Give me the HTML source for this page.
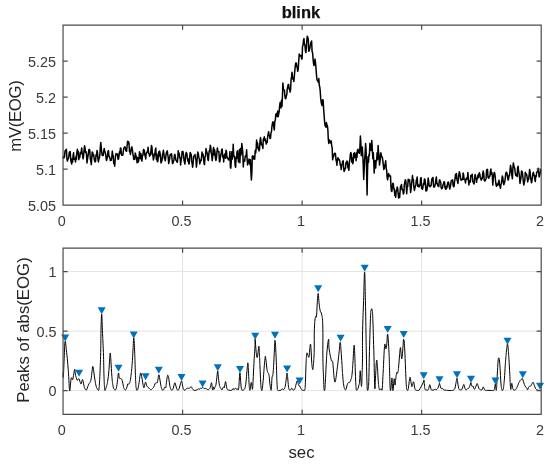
<!DOCTYPE html>
<html><head><meta charset="utf-8"><title>blink</title>
<style>html,body{margin:0;padding:0;background:#fff}svg{display:block}</style></head>
<body>
<svg width="550" height="464" viewBox="0 0 550 464">
<rect width="550" height="464" fill="#fff"/>
<path d="M182.59,248.2V414.4M302.12,248.2V414.4M421.66,248.2V414.4M63.05,390.60H541.2M63.05,331.10H541.2M63.05,271.60H541.2" stroke="#e3e3e3" stroke-width="1" fill="none"/>
<polyline points="63.0,158.5 63.5,156.6 64.0,157.9 64.5,156.6 65.0,151.0 65.4,150.3 65.9,150.3 66.4,149.2 66.9,158.8 67.4,161.1 67.8,159.3 68.3,158.5 68.8,156.6 69.3,152.3 69.7,151.9 70.2,151.6 70.7,159.8 71.2,162.4 71.7,164.0 72.1,158.7 72.6,161.9 73.1,155.3 73.6,152.8 74.0,159.3 74.5,158.3 75.0,158.6 75.5,162.0 76.0,156.2 76.4,159.3 76.9,152.1 77.4,149.3 77.9,154.1 78.3,151.6 78.8,159.7 79.3,155.9 79.8,157.5 80.3,152.5 80.7,153.8 81.2,151.9 81.7,147.9 82.2,153.5 82.6,155.1 83.1,158.8 83.6,155.3 84.1,149.9 84.6,145.7 85.0,147.8 85.5,152.4 86.0,151.7 86.5,154.6 87.0,162.9 87.4,159.7 87.9,156.7 88.4,153.1 88.9,149.6 89.3,149.4 89.8,150.2 90.3,158.8 90.8,161.1 91.3,164.6 91.7,159.0 92.2,151.9 92.7,152.7 93.2,156.1 93.6,154.5 94.1,157.8 94.6,160.8 95.1,162.0 95.6,161.1 96.0,154.7 96.5,156.1 97.0,150.5 97.5,152.6 97.9,158.7 98.4,161.9 98.9,159.0 99.4,157.8 99.9,154.2 100.3,147.9 100.8,142.4 101.3,148.6 101.8,152.7 102.2,155.5 102.7,154.8 103.2,155.4 103.7,151.5 104.2,148.6 104.6,150.4 105.1,152.1 105.6,154.0 106.1,157.9 106.5,160.6 107.0,158.8 107.5,155.9 108.0,151.3 108.5,150.7 108.9,156.3 109.4,156.7 109.9,158.2 110.4,160.6 110.9,159.9 111.3,160.2 111.8,157.0 112.3,151.0 112.8,155.3 113.2,155.7 113.7,163.4 114.2,163.1 114.7,166.2 115.2,159.0 115.6,155.5 116.1,153.6 116.6,154.4 117.1,154.9 117.5,154.0 118.0,159.3 118.5,159.1 119.0,155.9 119.5,151.8 119.9,153.7 120.4,148.0 120.9,148.2 121.4,153.9 121.8,155.2 122.3,155.2 122.8,155.2 123.3,151.3 123.8,147.8 124.2,147.6 124.7,146.9 125.2,147.4 125.7,150.3 126.1,150.9 126.6,151.3 127.1,145.7 127.6,141.2 128.1,143.8 128.5,141.8 129.0,143.3 129.5,151.6 130.0,151.6 130.4,154.4 130.9,150.9 131.4,147.8 131.9,146.9 132.4,149.8 132.8,153.4 133.3,155.8 133.8,159.5 134.3,157.4 134.8,159.2 135.2,153.1 135.7,154.8 136.2,156.7 136.7,159.1 137.1,162.8 137.6,157.5 138.1,162.2 138.6,161.2 139.1,157.9 139.5,151.7 140.0,154.1 140.5,158.5 141.0,153.7 141.4,159.6 141.9,161.1 142.4,155.6 142.9,155.5 143.4,149.7 143.8,149.5 144.3,150.5 144.8,154.9 145.3,156.2 145.7,158.9 146.2,153.5 146.7,152.5 147.2,152.2 147.7,150.3 148.1,147.2 148.6,153.5 149.1,153.4 149.6,156.2 150.0,155.2 150.5,154.9 151.0,150.4 151.5,145.4 152.0,147.5 152.4,154.6 152.9,155.3 153.4,159.9 153.9,157.7 154.3,153.6 154.8,155.1 155.3,149.9 155.8,148.0 156.3,159.2 156.7,153.9 157.2,161.3 157.7,161.8 158.2,158.3 158.7,151.9 159.1,155.9 159.6,151.1 160.1,153.5 160.6,158.5 161.0,162.9 161.5,161.7 162.0,160.4 162.5,154.6 163.0,152.7 163.4,150.3 163.9,153.8 164.4,158.6 164.9,158.9 165.3,160.8 165.8,156.5 166.3,153.1 166.8,151.8 167.3,150.8 167.7,154.4 168.2,157.1 168.7,163.6 169.2,160.6 169.6,159.3 170.1,154.7 170.6,154.3 171.1,155.0 171.6,153.9 172.0,158.8 172.5,163.6 173.0,163.1 173.5,160.8 173.9,160.6 174.4,155.3 174.9,154.3 175.4,157.1 175.9,160.2 176.3,160.5 176.8,161.8 177.3,162.3 177.8,158.1 178.2,150.7 178.7,155.2 179.2,153.3 179.7,157.9 180.2,157.6 180.6,164.9 181.1,160.3 181.6,158.1 182.1,151.4 182.6,151.4 183.0,151.7 183.5,154.8 184.0,160.2 184.5,162.2 184.9,164.1 185.4,158.2 185.9,153.2 186.4,152.4 186.9,153.8 187.3,157.9 187.8,161.2 188.3,159.0 188.8,164.0 189.2,163.7 189.7,156.8 190.2,152.4 190.7,153.6 191.2,154.4 191.6,161.1 192.1,163.3 192.6,167.2 193.1,163.2 193.5,156.6 194.0,155.9 194.5,155.6 195.0,154.5 195.5,159.0 195.9,158.9 196.4,167.1 196.9,162.3 197.4,155.2 197.8,152.1 198.3,153.7 198.8,157.2 199.3,159.0 199.8,163.9 200.2,162.1 200.7,160.0 201.2,160.6 201.7,155.5 202.1,152.0 202.6,155.6 203.1,154.2 203.6,159.0 204.1,164.0 204.5,164.6 205.0,157.0 205.5,156.2 206.0,148.6 206.5,150.9 206.9,152.7 207.4,153.5 207.9,159.7 208.4,160.5 208.8,154.9 209.3,150.7 209.8,150.9 210.3,145.2 210.8,147.4 211.2,153.2 211.7,154.9 212.2,160.7 212.7,156.1 213.1,149.8 213.6,147.5 214.1,154.9 214.6,149.8 215.1,153.3 215.5,158.9 216.0,160.4 216.5,157.5 217.0,151.4 217.4,147.9 217.9,151.3 218.4,151.8 218.9,151.6 219.4,161.7 219.8,161.9 220.3,157.9 220.8,154.6 221.3,152.9 221.7,149.4 222.2,149.1 222.7,157.1 223.2,155.3 223.7,162.0 224.1,155.6 224.6,156.7 225.1,153.5 225.6,158.3 226.0,150.2 226.5,151.8 227.0,157.6 227.5,157.5 228.0,158.7 228.4,159.8 228.9,158.2 229.4,160.1 229.9,151.4 230.4,167.6 230.8,168.2 231.3,161.0 231.8,151.7 232.3,159.1 232.7,156.9 233.2,144.2 233.7,155.4 234.2,156.3 234.7,156.4 235.1,165.3 235.6,167.2 236.1,157.8 236.6,158.5 237.0,151.9 237.5,150.8 238.0,157.0 238.5,161.9 239.0,158.2 239.4,149.8 239.9,162.7 240.4,148.5 240.9,155.2 241.3,153.4 241.8,143.6 242.3,147.6 242.8,152.6 243.3,167.0 243.7,160.1 244.2,160.9 244.7,161.1 245.2,156.1 245.6,156.6 246.1,156.6 246.6,149.8 247.1,158.7 247.6,164.9 248.0,162.4 248.5,162.6 249.0,159.1 249.5,160.6 249.9,164.6 250.4,159.7 250.9,171.3 251.4,180.0 251.9,171.5 252.3,156.3 252.8,155.8 253.3,159.0 253.8,158.5 254.3,156.2 254.7,159.2 255.2,150.6 255.7,152.8 256.2,147.9 256.6,140.0 257.1,147.6 257.6,143.1 258.1,148.9 258.6,147.5 259.0,151.0 259.5,149.7 260.0,141.4 260.5,137.6 260.9,140.7 261.4,144.7 261.9,144.3 262.4,145.7 262.9,148.4 263.3,139.0 263.8,140.9 264.3,136.8 264.8,139.9 265.2,139.0 265.7,140.6 266.2,144.1 266.7,141.6 267.2,142.4 267.6,137.2 268.1,134.3 268.6,131.7 269.1,135.6 269.5,135.3 270.0,138.4 270.5,138.2 271.0,132.9 271.5,131.6 271.9,126.7 272.4,123.7 272.9,121.7 273.4,122.9 273.8,127.0 274.3,130.0 274.8,121.4 275.3,120.3 275.8,114.2 276.2,114.1 276.7,113.3 277.2,116.6 277.7,111.0 278.2,116.7 278.6,114.3 279.1,112.2 279.6,106.1 280.1,102.6 280.5,104.3 281.0,108.0 281.5,100.2 282.0,106.3 282.5,94.5 282.9,83.0 283.4,89.4 283.9,89.9 284.4,89.9 284.8,95.1 285.3,98.7 285.8,98.6 286.3,96.0 286.8,94.6 287.2,89.2 287.7,86.9 288.2,84.6 288.7,84.5 289.1,89.1 289.6,88.3 290.1,92.1 290.6,89.3 291.1,79.0 291.5,77.6 292.0,72.2 292.5,77.1 293.0,79.3 293.4,79.1 293.9,81.5 294.4,75.3 294.9,69.7 295.4,64.8 295.8,63.0 296.3,63.0 296.8,66.7 297.3,67.8 297.7,71.3 298.2,69.3 298.7,61.2 299.2,54.1 299.7,55.4 300.1,56.0 300.6,55.4 301.1,55.4 301.6,59.0 302.1,58.8 302.5,46.2 303.0,45.3 303.5,40.0 304.0,38.6 304.4,44.4 304.9,44.8 305.4,50.8 305.9,52.6 306.4,47.1 306.8,40.8 307.3,36.2 307.8,37.5 308.3,39.6 308.7,51.2 309.2,50.5 309.7,49.1 310.2,46.0 310.7,42.8 311.1,42.1 311.6,41.0 312.1,51.6 312.6,52.7 313.0,58.1 313.5,63.3 314.0,65.6 314.5,63.7 315.0,59.0 315.4,62.2 315.9,66.7 316.4,73.9 316.9,79.3 317.3,80.4 317.8,80.4 318.3,82.2 318.8,78.5 319.3,85.2 319.7,86.7 320.2,90.7 320.7,98.4 321.2,102.1 321.6,104.2 322.1,105.6 322.6,99.8 323.1,100.0 323.6,108.5 324.0,113.5 324.5,120.5 325.0,125.6 325.5,125.9 326.0,127.3 326.4,122.6 326.9,124.9 327.4,125.8 327.9,130.2 328.3,139.5 328.8,143.5 329.3,139.8 329.8,140.6 330.3,141.9 330.7,142.9 331.2,140.9 331.7,145.8 332.2,147.9 332.6,159.8 333.1,156.8 333.6,156.7 334.1,154.1 334.6,153.3 335.0,153.2 335.5,154.0 336.0,160.0 336.5,161.6 336.9,165.2 337.4,159.7 337.9,157.7 338.4,158.5 338.9,159.9 339.3,159.7 339.8,161.3 340.3,165.4 340.8,165.6 341.2,169.6 341.7,165.0 342.2,163.7 342.7,161.1 343.2,160.9 343.6,167.6 344.1,171.5 344.6,170.5 345.1,168.3 345.5,168.4 346.0,162.6 346.5,163.9 347.0,161.0 347.5,162.2 347.9,167.7 348.4,167.8 348.9,170.3 349.4,162.0 349.9,159.7 350.3,154.6 350.8,152.5 351.3,154.1 351.8,162.1 352.2,158.1 352.7,163.8 353.2,162.1 353.7,153.4 354.2,157.7 354.6,152.7 355.1,157.4 355.6,154.7 356.1,160.7 356.5,152.9 357.0,157.2 357.5,149.9 358.0,149.3 358.5,152.5 358.9,151.9 359.4,153.2 359.9,147.6 360.4,136.0 360.8,141.7 361.3,155.7 361.8,154.9 362.3,147.1 362.8,155.7 363.2,164.2 363.7,179.6 364.2,169.3 364.7,158.8 365.1,153.8 365.6,143.6 366.1,150.2 366.6,171.3 367.1,195.0 367.5,172.2 368.0,156.7 368.5,162.3 369.0,154.4 369.4,155.3 369.9,143.3 370.4,145.3 370.9,150.5 371.4,149.8 371.8,140.4 372.3,149.0 372.8,158.7 373.3,152.8 373.8,162.8 374.2,173.0 374.7,163.6 375.2,160.6 375.7,167.9 376.1,161.2 376.6,160.7 377.1,152.7 377.6,159.4 378.1,145.5 378.5,151.5 379.0,154.8 379.5,165.1 380.0,161.4 380.4,157.9 380.9,152.8 381.4,156.1 381.9,156.5 382.4,157.9 382.8,160.3 383.3,164.9 383.8,169.4 384.3,168.5 384.7,165.7 385.2,163.7 385.7,160.8 386.2,168.3 386.7,170.6 387.1,177.1 387.6,179.8 388.1,176.6 388.6,173.5 389.0,176.1 389.5,175.2 390.0,176.2 390.5,176.1 391.0,187.0 391.4,190.8 391.9,191.5 392.4,185.4 392.9,183.3 393.3,183.6 393.8,188.9 394.3,189.0 394.8,195.4 395.3,195.7 395.7,197.2 396.2,190.1 396.7,190.6 397.2,186.9 397.7,188.5 398.1,193.2 398.6,197.9 399.1,193.4 399.6,197.6 400.0,192.7 400.5,186.3 401.0,187.0 401.5,184.5 402.0,189.6 402.4,189.2 402.9,190.6 403.4,194.1 403.9,192.5 404.3,184.8 404.8,182.4 405.3,179.7 405.8,180.9 406.3,187.3 406.7,193.8 407.2,186.7 407.7,186.6 408.2,179.3 408.6,180.3 409.1,181.5 409.6,179.7 410.1,185.6 410.6,192.4 411.0,189.9 411.5,184.9 412.0,180.5 412.5,175.5 412.9,180.4 413.4,179.5 413.9,187.3 414.4,190.4 414.9,188.2 415.3,186.4 415.8,185.2 416.3,180.2 416.8,179.2 417.2,177.0 417.7,186.3 418.2,186.4 418.7,185.0 419.2,186.9 419.6,185.4 420.1,185.1 420.6,178.3 421.1,177.6 421.6,188.5 422.0,188.3 422.5,189.4 423.0,186.6 423.5,183.3 423.9,184.7 424.4,179.0 424.9,179.3 425.4,182.7 425.9,190.9 426.3,188.7 426.8,190.7 427.3,186.8 427.8,182.9 428.2,178.1 428.7,181.5 429.2,186.1 429.7,186.1 430.2,186.6 430.6,185.5 431.1,185.7 431.6,180.9 432.1,178.4 432.5,178.3 433.0,177.5 433.5,185.7 434.0,187.2 434.5,186.9 434.9,185.5 435.4,183.7 435.9,179.3 436.4,177.0 436.8,183.4 437.3,183.5 437.8,185.8 438.3,184.9 438.8,186.6 439.2,181.4 439.7,179.8 440.2,181.1 440.7,182.0 441.1,187.2 441.6,188.7 442.1,188.4 442.6,187.4 443.1,184.3 443.5,184.0 444.0,181.7 444.5,182.1 445.0,187.6 445.5,189.0 445.9,189.3 446.4,186.3 446.9,187.9 447.4,184.6 447.8,182.6 448.3,182.0 448.8,183.2 449.3,186.9 449.8,189.0 450.2,187.3 450.7,184.6 451.2,180.8 451.7,180.5 452.1,180.2 452.6,179.9 453.1,185.4 453.6,186.8 454.1,186.3 454.5,181.9 455.0,178.8 455.5,174.5 456.0,178.2 456.4,173.6 456.9,179.4 457.4,181.1 457.9,183.4 458.4,179.6 458.8,174.9 459.3,171.8 459.8,173.0 460.3,176.3 460.7,178.8 461.2,180.3 461.7,179.8 462.2,179.4 462.7,179.5 463.1,173.0 463.6,174.8 464.1,179.4 464.6,179.7 465.0,179.8 465.5,183.0 466.0,178.9 466.5,178.1 467.0,179.1 467.4,178.9 467.9,172.4 468.4,179.9 468.9,184.9 469.4,180.8 469.8,181.7 470.3,182.0 470.8,175.4 471.3,176.1 471.7,175.8 472.2,174.2 472.7,181.6 473.2,181.9 473.7,183.7 474.1,183.9 474.6,178.3 475.1,174.4 475.6,176.5 476.0,178.0 476.5,182.3 477.0,178.8 477.5,179.0 478.0,174.9 478.4,177.5 478.9,174.2 479.4,172.8 479.9,174.6 480.3,177.7 480.8,178.9 481.3,180.2 481.8,177.7 482.3,178.6 482.7,173.9 483.2,171.1 483.7,173.4 484.2,180.1 484.6,180.8 485.1,180.9 485.6,179.8 486.1,178.4 486.6,169.8 487.0,169.9 487.5,169.4 488.0,177.2 488.5,178.0 488.9,178.2 489.4,176.3 489.9,176.1 490.4,171.2 490.9,169.1 491.3,174.2 491.8,172.5 492.3,175.3 492.8,185.1 493.3,178.2 493.7,175.4 494.2,172.6 494.7,173.2 495.2,177.2 495.6,181.3 496.1,185.3 496.6,186.4 497.1,183.9 497.6,185.3 498.0,184.9 498.5,182.1 499.0,180.2 499.5,185.1 499.9,185.8 500.4,188.3 500.9,184.8 501.4,183.1 501.9,179.7 502.3,176.0 502.8,177.7 503.3,182.4 503.8,184.7 504.2,183.5 504.7,182.0 505.2,178.8 505.7,173.6 506.2,172.2 506.6,172.2 507.1,173.9 507.6,177.5 508.1,180.1 508.5,179.5 509.0,175.2 509.5,175.8 510.0,170.5 510.5,165.2 510.9,167.1 511.4,171.4 511.9,175.7 512.4,178.8 512.8,169.5 513.3,163.0 513.8,165.6 514.3,167.3 514.8,168.8 515.2,172.5 515.7,175.5 516.2,173.9 516.7,175.9 517.2,176.4 517.6,167.9 518.1,166.3 518.6,171.5 519.1,173.7 519.5,176.9 520.0,183.4 520.5,180.6 521.0,177.5 521.5,171.0 521.9,171.4 522.4,172.5 522.9,177.2 523.4,182.4 523.8,185.0 524.3,182.4 524.8,180.3 525.3,172.3 525.8,173.5 526.2,173.9 526.7,174.7 527.2,177.8 527.7,181.9 528.1,179.2 528.6,179.4 529.1,175.1 529.6,169.6 530.1,171.5 530.5,176.3 531.0,180.1 531.5,182.8 532.0,180.5 532.4,177.5 532.9,173.4 533.4,172.3 533.9,175.2 534.4,175.3 534.8,179.2 535.3,181.5 535.8,175.7 536.3,176.3 536.7,171.9 537.2,172.0 537.7,171.7 538.2,168.3 538.7,173.0 539.1,177.0 539.6,175.6 540.1,173.4 540.6,169.8 541.1,169.7" fill="none" stroke="#000" stroke-width="1.5" stroke-linejoin="round"/>
<path d="M63.1,372.4C63.2,373.4 63.1,379.9 63.4,376.6C63.6,373.4 63.8,366.8 64.2,358.5C64.6,350.3 64.5,342.8 65.1,341.4C65.6,340.0 66.0,347.1 66.6,352.5C67.3,357.9 67.4,358.9 67.8,364.6C68.3,370.2 68.3,371.0 68.7,376.6C69.1,382.3 69.1,385.4 69.4,388.7C69.7,391.0 69.6,391.0 69.9,390.8C70.2,388.8 70.4,383.3 70.9,380.3C71.3,377.2 71.3,378.0 71.7,377.8C72.1,377.7 72.2,380.2 72.7,379.7C73.1,379.1 73.0,377.8 73.5,375.4C74.0,373.0 74.3,369.7 74.7,369.4C75.2,369.1 75.1,372.3 75.4,374.2C75.8,376.2 75.9,376.4 76.3,377.8C76.7,379.3 76.7,379.9 77.1,380.3C77.6,380.6 77.6,379.6 78.1,379.3C78.5,379.0 78.6,378.3 79.1,378.8C79.5,379.3 79.4,380.3 79.9,381.5C80.4,382.6 80.5,384.3 81.1,383.9C81.7,383.5 81.8,380.2 82.3,379.7C82.8,379.1 82.7,379.9 83.2,381.5C83.6,383.0 83.6,384.5 84.1,386.3C84.6,388.1 84.8,388.5 85.3,389.3C85.9,390.1 86.0,390.5 86.5,389.9C87.1,389.3 87.2,388.3 87.7,386.9C88.3,385.5 88.4,385.0 89.0,383.9C89.5,382.7 89.7,383.2 90.2,382.1C90.7,380.9 90.7,381.4 91.1,379.1C91.5,376.7 91.6,374.8 92.0,371.8C92.4,368.9 92.4,366.4 92.8,366.4C93.2,366.4 93.3,368.6 93.8,371.8C94.3,375.0 94.4,376.9 95.0,380.3C95.5,383.6 95.6,384.2 96.2,386.3C96.8,388.4 97.0,388.5 97.6,389.3C98.3,390.1 98.3,391.0 98.8,389.9C99.3,387.0 99.4,385.4 99.8,376.6C100.2,367.9 100.4,363.3 100.7,352.5C100.9,341.7 100.8,339.4 101.0,330.4C101.2,321.5 101.4,314.1 101.7,314.1C102.0,314.1 102.0,321.5 102.4,330.4C102.8,339.4 103.0,341.7 103.4,352.5C103.8,363.3 103.7,368.2 104.0,376.6C104.3,385.1 104.4,385.5 104.6,388.7C104.9,391.0 104.8,390.7 105.2,390.1C105.7,389.6 105.9,388.3 106.4,386.3C107.0,384.3 107.1,385.1 107.6,381.5C108.2,377.8 108.4,376.0 108.9,370.6C109.3,365.3 109.4,362.6 109.7,358.5C110.0,354.5 110.0,352.6 110.3,353.1C110.6,353.7 110.5,355.5 110.9,361.0C111.3,366.4 111.4,370.7 111.9,376.6C112.4,382.5 112.5,383.3 113.1,386.3C113.6,389.2 113.7,388.5 114.3,389.3C114.8,390.1 114.9,390.6 115.5,389.9C116.1,389.2 116.2,388.8 116.7,386.3C117.2,383.8 117.2,382.1 117.7,379.1C118.1,376.0 118.1,373.3 118.5,373.0C118.9,372.7 118.9,376.6 119.3,377.8C119.8,379.1 119.7,377.9 120.3,378.4C121.0,379.0 121.5,378.4 122.2,380.3C122.9,382.1 122.8,384.2 123.4,386.3C123.9,388.4 124.0,388.5 124.6,389.3C125.1,390.1 125.2,390.2 125.8,389.7C126.4,389.1 126.5,388.2 127.0,386.9C127.5,385.5 127.4,384.5 127.8,383.9C128.2,383.2 128.3,384.4 128.7,384.1C129.1,383.8 129.1,384.4 129.7,382.7C130.2,380.9 130.3,380.9 130.9,376.6C131.4,372.4 131.6,370.8 132.1,364.6C132.6,358.4 132.6,356.3 133.0,350.1C133.4,343.9 133.4,338.4 133.7,337.8C134.0,337.3 134.2,341.5 134.5,347.7C134.8,353.9 134.8,356.7 135.1,364.6C135.4,372.5 135.4,375.8 135.7,381.5C136.0,387.1 135.9,386.7 136.3,388.7C136.6,390.7 136.7,390.3 137.1,390.1C137.6,390.0 137.6,389.8 138.1,388.1C138.5,386.4 138.6,385.3 139.1,382.7C139.5,380.0 139.5,378.9 139.9,376.6C140.3,374.4 140.3,373.0 140.7,373.0C141.2,373.0 141.3,374.4 141.7,376.6C142.2,378.9 142.3,380.3 142.7,382.7C143.1,385.1 143.2,385.8 143.5,386.9C143.9,388.0 143.8,387.9 144.1,387.5C144.4,387.1 144.4,386.3 144.7,385.1C145.1,383.8 145.2,382.1 145.6,382.1C146.0,382.1 146.1,384.0 146.5,385.1C147.0,386.2 146.9,386.2 147.5,386.9C148.1,387.6 148.3,387.5 149.0,388.1C149.6,388.7 149.7,388.9 150.2,389.3C150.7,389.7 150.6,389.8 151.1,389.7C151.6,389.5 151.7,389.3 152.3,388.7C152.9,388.1 153.2,388.0 153.8,386.9C154.4,385.8 154.4,384.9 155.0,383.9C155.5,382.9 155.7,382.9 156.2,382.7C156.7,382.4 156.7,383.8 157.2,382.9C157.6,382.1 157.6,380.9 158.0,379.1C158.4,377.2 158.4,374.8 158.8,374.8C159.3,374.8 159.4,376.7 159.8,379.1C160.3,381.4 160.3,382.7 160.8,385.1C161.3,387.5 161.4,388.1 162.0,389.3C162.5,390.5 162.7,390.3 163.2,390.1C163.7,390.0 163.6,389.5 164.0,388.7C164.4,387.9 164.5,387.2 164.9,386.9C165.3,386.6 165.5,388.5 165.8,387.5C166.2,386.5 166.1,385.2 166.4,382.7C166.8,380.1 166.9,378.3 167.3,376.6C167.7,374.9 167.6,374.9 168.0,375.4C168.4,376.0 168.5,376.8 168.9,379.1C169.2,381.3 169.3,382.8 169.7,385.1C170.1,387.3 170.2,387.5 170.7,388.7C171.2,389.9 171.3,390.1 171.9,390.1C172.4,390.1 172.6,389.9 173.1,388.7C173.6,387.5 173.6,386.5 174.0,385.1C174.5,383.7 174.5,382.7 174.9,382.7C175.3,382.7 175.3,383.7 175.7,385.1C176.2,386.5 176.2,387.5 176.7,388.7C177.2,389.9 177.3,390.1 177.9,390.1C178.5,390.1 178.6,389.9 179.1,388.7C179.6,387.5 179.6,386.6 180.1,385.1C180.5,383.5 180.6,382.9 181.0,382.1C181.4,381.2 181.4,380.5 181.8,381.5C182.2,382.4 182.2,384.5 182.7,386.3C183.1,388.1 183.1,388.4 183.6,389.3C184.1,390.2 184.1,390.3 184.8,390.1C185.5,390.0 185.9,389.2 186.6,388.7C187.3,388.2 187.3,388.2 187.8,388.1C188.4,388.0 188.5,388.6 189.0,388.5C189.6,388.3 189.7,387.9 190.3,387.5C190.8,387.1 191.0,386.6 191.5,386.9C191.9,387.2 191.8,388.0 192.3,388.7C192.8,389.4 192.9,389.5 193.5,389.9C194.2,390.3 194.3,390.4 195.1,390.4C195.9,390.4 196.2,390.3 196.9,389.9C197.6,389.5 197.5,388.8 198.1,388.7C198.7,388.6 198.7,389.4 199.3,389.3C199.9,389.2 199.9,388.3 200.5,388.1C201.1,387.9 201.2,388.7 201.7,388.5C202.2,388.3 202.1,387.3 202.6,387.3C203.0,387.2 203.0,387.8 203.5,388.1C204.0,388.4 204.2,388.6 204.7,388.7C205.3,388.8 205.4,388.3 205.9,388.5C206.5,388.6 206.6,389.0 207.1,389.3C207.7,389.6 207.8,389.8 208.3,389.7C208.9,389.5 209.1,389.3 209.6,388.7C210.0,388.1 210.0,388.0 210.4,386.9C210.8,385.8 210.8,384.7 211.1,383.9C211.4,383.0 211.4,382.1 211.7,383.3C212.0,384.4 212.1,387.2 212.3,388.7C212.6,390.2 212.5,390.3 212.8,389.9C213.1,389.5 213.2,387.0 213.5,386.9C213.8,386.8 213.8,389.3 214.1,389.3C214.5,389.3 214.6,387.7 215.0,386.9C215.3,386.0 215.4,387.0 215.7,385.7C216.0,384.4 216.1,384.1 216.4,381.5C216.8,378.8 216.8,376.6 217.2,374.2C217.5,371.8 217.5,370.6 217.8,371.2C218.0,371.8 218.0,373.7 218.4,376.6C218.7,379.6 218.8,381.5 219.2,383.9C219.6,386.3 219.6,385.8 220.0,386.9C220.5,388.0 220.6,388.0 221.0,388.7C221.5,389.4 221.6,390.0 222.0,389.9C222.4,389.8 222.4,388.8 222.8,388.1C223.2,387.4 223.3,387.0 223.7,386.9C224.0,386.8 224.1,388.2 224.4,387.5C224.7,386.8 224.7,385.3 225.0,383.9C225.3,382.5 225.3,381.3 225.6,381.5C225.9,381.6 225.9,382.9 226.2,384.5C226.5,386.0 226.5,386.9 226.8,388.1C227.1,389.3 227.2,389.2 227.6,389.7C228.1,390.1 228.2,390.0 228.9,390.1C229.6,390.3 229.9,390.4 230.7,390.4C231.4,390.3 231.5,390.4 232.1,389.9C232.7,389.5 232.7,388.5 233.1,388.5C233.5,388.4 233.5,389.6 233.9,389.7C234.3,389.7 234.5,389.1 234.9,388.7C235.3,388.3 235.4,388.0 235.7,388.1C236.1,388.2 236.1,389.2 236.5,389.3C236.8,389.4 236.9,388.6 237.3,388.7C237.7,388.8 237.8,390.5 238.1,389.9C238.5,389.3 238.6,389.4 238.9,386.3C239.2,383.2 239.2,379.7 239.5,376.6C239.7,373.5 239.7,372.2 240.0,373.0C240.3,373.9 240.3,376.6 240.6,380.3C240.9,383.9 241.0,386.4 241.4,388.7C241.9,391.0 242.0,390.0 242.7,390.1C243.3,390.3 243.6,390.2 244.2,389.3C244.9,388.4 244.9,388.7 245.4,386.3C245.9,383.9 245.9,382.7 246.3,379.1C246.6,375.4 246.6,374.4 247.0,370.6C247.4,366.8 247.5,362.8 247.8,362.8C248.2,362.8 248.2,366.0 248.4,370.6C248.7,375.3 248.8,378.2 249.0,382.7C249.3,387.2 249.4,388.5 249.7,389.9C249.9,391.0 250.0,390.1 250.3,388.7C250.5,387.3 250.6,385.3 250.9,383.9C251.1,382.5 251.2,381.8 251.5,382.7C251.7,383.5 251.8,386.2 252.1,387.5C252.3,388.8 252.4,390.6 252.7,388.1C252.9,385.6 252.9,383.5 253.3,376.6C253.6,369.7 253.8,366.1 254.2,358.5C254.7,350.9 254.9,348.3 255.1,344.1C255.3,339.8 254.8,337.3 255.2,340.4C255.6,343.6 256.2,356.1 257.0,357.4C257.8,358.8 258.3,347.6 258.8,346.4C259.3,345.3 259.0,348.3 259.3,352.5C259.6,356.7 259.6,357.5 259.9,364.6C260.2,371.6 260.4,376.8 260.7,382.7C261.1,388.6 261.1,388.5 261.5,389.9C261.8,391.0 261.9,391.0 262.3,388.7C262.7,386.4 262.7,385.0 263.2,380.3C263.6,375.5 263.7,373.3 264.1,368.2C264.5,363.1 264.7,361.2 265.0,358.5C265.3,355.9 265.2,355.9 265.5,356.7C265.7,357.6 265.8,359.2 266.2,362.2C266.5,365.1 266.7,367.0 267.0,369.4C267.4,371.8 267.4,371.4 267.7,372.4C268.1,373.4 268.1,372.6 268.5,373.6C268.8,374.6 268.9,374.2 269.2,376.6C269.5,379.0 269.5,380.9 269.9,383.9C270.3,386.8 270.4,388.2 270.8,389.3C271.1,390.4 271.1,391.0 271.4,388.7C271.6,386.0 271.7,380.8 272.0,377.8C272.2,374.9 272.3,377.4 272.6,376.0C272.9,374.6 272.9,375.0 273.2,371.8C273.5,368.6 273.5,367.2 273.8,362.2C274.1,357.1 274.1,355.2 274.4,350.1C274.7,345.0 274.6,339.9 275.0,340.4C275.4,341.0 275.6,345.5 275.9,352.5C276.3,359.5 276.3,362.7 276.6,370.6C276.8,378.5 276.9,381.7 277.2,386.3C277.4,390.8 277.3,389.2 277.8,390.1C278.2,391.0 278.4,390.4 279.2,390.4C280.0,390.4 280.3,390.5 281.0,390.1C281.7,389.8 281.7,388.8 282.2,388.7C282.7,388.6 282.7,389.7 283.2,389.7C283.7,389.7 283.9,389.5 284.4,388.7C284.9,387.9 284.8,388.3 285.2,386.3C285.6,384.3 285.7,383.4 286.1,380.3C286.5,377.2 286.6,373.0 287.0,373.0C287.5,373.0 287.5,376.9 287.9,380.3C288.3,383.6 288.2,385.2 288.6,387.5C289.0,389.7 289.0,389.4 289.5,389.9C289.9,390.4 290.2,390.1 290.7,389.7C291.2,389.2 291.2,388.2 291.6,388.1C292.1,388.0 292.0,388.8 292.5,389.3C293.0,389.8 293.1,390.3 293.7,390.1C294.2,390.0 294.4,389.7 294.9,388.7C295.4,387.7 295.3,387.2 295.7,385.7C296.2,384.1 296.3,383.2 296.7,382.1C297.1,380.9 297.1,380.6 297.4,380.9C297.8,381.1 297.8,382.1 298.1,383.3C298.5,384.4 298.5,385.0 298.9,385.7C299.2,386.3 299.2,385.3 299.7,386.0C300.2,386.8 300.4,387.7 301.0,388.7C301.5,389.7 301.6,389.8 302.2,390.1C302.8,390.5 303.0,390.4 303.6,390.4C304.2,390.3 304.4,391.0 304.8,389.9C305.2,388.1 305.1,388.6 305.4,382.7C305.7,376.8 305.7,371.0 306.0,364.6C306.3,358.1 306.4,357.6 306.6,354.9C306.9,352.3 306.9,352.8 307.2,353.1C307.6,353.4 307.8,355.3 308.2,356.1C308.6,357.0 308.7,358.1 309.0,356.7C309.4,355.3 309.3,353.1 309.7,350.1C310.0,347.1 310.2,344.1 310.5,344.1C310.8,344.1 310.8,345.9 311.1,350.1C311.4,354.3 311.4,357.9 311.7,362.2C312.0,366.4 312.1,366.6 312.4,368.2C312.7,369.7 312.7,370.2 313.0,368.8C313.3,367.4 313.3,366.5 313.6,362.2C313.9,357.8 314.1,357.4 314.2,350.1C314.4,342.8 314.1,338.4 314.3,330.8C314.6,323.2 314.8,320.9 315.3,317.5C315.8,314.1 316.0,319.4 316.5,316.3C316.9,313.2 316.8,309.6 317.2,304.2C317.6,298.9 317.7,293.4 318.2,293.4C318.6,293.4 318.6,300.0 319.2,304.2C319.7,308.5 319.8,309.2 320.4,311.5C320.9,313.7 321.0,310.5 321.6,313.9C322.1,317.3 322.5,315.5 322.8,326.0C323.1,336.4 322.7,346.7 322.9,358.5C323.1,370.4 323.2,369.5 323.5,376.6C323.8,383.8 323.8,386.2 324.1,389.3C324.4,391.0 324.4,391.0 324.7,390.1C325.0,388.6 325.0,388.6 325.3,382.7C325.7,376.7 325.8,372.2 326.2,364.6C326.6,357.0 326.6,356.0 327.1,350.1C327.7,344.2 328.2,339.8 328.6,339.2C329.0,338.7 328.6,344.3 329.0,347.7C329.3,351.1 329.5,351.3 329.9,353.7C330.3,356.1 330.4,356.3 330.8,357.9C331.2,359.6 331.2,360.1 331.6,361.0C332.0,361.8 332.2,359.9 332.6,361.6C333.0,363.2 332.9,364.4 333.3,368.2C333.7,372.0 333.7,374.6 334.1,377.8C334.5,381.1 334.6,381.8 335.0,382.1C335.4,382.3 335.4,381.4 335.8,379.1C336.2,376.7 336.3,375.8 336.8,371.8C337.3,367.9 337.4,366.9 338.0,362.2C338.6,357.4 338.7,356.0 339.2,351.3C339.7,346.7 339.7,342.5 340.2,342.3C340.6,342.0 340.6,344.9 341.0,350.1C341.4,355.3 341.6,358.4 342.0,364.6C342.4,370.8 342.4,371.9 342.8,376.6C343.2,381.4 343.2,382.3 343.7,385.1C344.1,387.9 344.2,387.6 344.6,388.7C345.1,389.8 345.2,390.0 345.6,389.9C346.0,389.8 346.0,389.4 346.4,388.1C346.8,386.8 346.9,385.7 347.3,384.5C347.7,383.2 347.7,383.1 348.3,382.7C348.8,382.2 348.9,383.2 349.5,382.7C350.0,382.1 350.1,381.9 350.7,380.3C351.2,378.6 351.4,379.1 351.9,375.4C352.4,371.8 352.4,370.5 352.8,364.6C353.3,358.7 353.3,354.5 353.7,350.1C354.0,345.7 354.0,343.9 354.3,345.9C354.6,347.8 354.6,351.4 354.9,358.5C355.2,365.7 355.2,369.6 355.5,376.6C355.8,383.7 355.8,385.5 356.1,388.7C356.4,391.0 356.3,390.1 356.7,390.1C357.1,390.1 357.4,389.9 357.9,388.7C358.4,387.5 358.5,386.5 358.9,385.1C359.2,383.7 359.2,385.2 359.5,382.7C359.7,380.1 359.8,376.9 360.0,374.2C360.1,371.6 360.1,369.8 360.3,371.2C360.5,372.6 360.6,376.7 360.9,380.3C361.2,383.8 361.3,387.1 361.5,386.3C361.8,385.4 361.8,383.1 362.0,376.6C362.2,370.2 362.3,369.3 362.5,358.5C362.6,347.8 362.3,344.0 362.6,330.4C362.9,316.9 363.1,314.1 363.6,300.4C364.1,286.8 364.2,272.1 364.6,272.1C365.0,272.1 365.0,283.3 365.4,300.4C365.8,317.6 365.8,324.6 366.2,345.4C366.6,366.3 366.7,380.6 367.3,389.9C367.9,391.0 368.1,391.0 368.6,385.4C369.1,375.1 369.1,361.8 369.6,345.4C370.1,329.1 370.2,323.7 370.6,315.4C371.0,307.2 370.9,311.2 371.3,309.9C371.7,308.7 371.8,308.0 372.1,309.9C372.5,311.9 372.4,309.0 372.8,318.4C373.2,327.9 373.3,334.1 373.8,350.4C374.3,366.8 374.4,382.6 374.8,388.4C375.2,391.0 375.2,382.0 375.6,375.4C376.0,368.9 376.2,362.0 376.6,360.4C377.1,358.7 377.1,363.3 377.5,368.2C377.9,373.1 377.9,376.5 378.3,381.5C378.8,386.4 378.7,387.6 379.3,389.3C379.9,391.0 380.5,388.6 381.1,388.7C381.8,388.8 381.7,391.0 382.1,389.9C382.5,387.1 382.6,382.5 382.9,376.6C383.3,370.7 383.2,371.6 383.5,364.6C383.9,357.5 384.1,351.0 384.5,346.5C384.9,342.0 385.0,344.7 385.3,345.3C385.7,345.8 385.6,349.2 385.9,348.9C386.3,348.6 386.4,347.4 386.8,344.1C387.2,340.7 387.2,332.5 387.7,334.4C388.2,336.4 388.5,344.1 389.0,352.5C389.4,360.9 389.3,362.2 389.6,370.6C389.8,379.1 389.9,384.2 390.2,388.7C390.4,391.0 390.4,391.0 390.8,389.9C391.1,387.9 391.3,382.8 391.6,380.3C391.9,377.7 391.9,377.1 392.1,379.1C392.3,381.0 392.3,386.2 392.6,388.7C392.8,391.0 392.9,391.0 393.2,389.9C393.5,388.2 393.5,384.0 393.8,381.5C394.1,378.9 394.1,378.2 394.4,379.1C394.7,379.9 394.7,384.8 395.0,385.1C395.3,385.4 395.3,382.5 395.6,380.3C395.9,378.0 395.9,377.3 396.2,375.4C396.5,373.6 396.5,373.0 396.8,372.4C397.1,371.9 397.2,374.3 397.6,373.0C398.1,371.8 398.2,371.2 398.6,367.0C399.1,362.8 399.1,359.4 399.6,354.9C400.0,350.4 400.1,348.3 400.4,347.7C400.7,347.1 400.7,350.0 401.0,352.5C401.3,355.0 401.3,357.7 401.6,358.5C401.9,359.4 401.9,359.2 402.2,356.1C402.6,353.0 402.7,349.2 403.1,345.3C403.4,341.4 403.3,338.8 403.7,339.3C404.1,339.9 404.2,340.4 404.6,347.7C405.1,355.0 405.2,361.6 405.6,370.6C406.0,379.6 406.0,381.7 406.4,386.3C406.8,390.8 406.9,389.6 407.3,390.1C407.7,390.7 407.8,390.7 408.3,388.7C408.7,386.7 408.8,384.1 409.2,381.5C409.6,378.8 409.7,377.2 410.1,377.2C410.5,377.2 410.5,379.5 410.9,381.5C411.3,383.4 411.3,384.6 411.6,385.7C411.9,386.8 411.9,387.0 412.2,386.3C412.6,385.6 412.7,383.7 413.1,382.7C413.4,381.7 413.4,381.5 413.7,382.1C414.0,382.6 414.0,383.5 414.3,385.1C414.6,386.6 414.5,387.6 414.9,388.7C415.2,389.8 415.2,389.5 415.7,389.9C416.3,390.3 416.5,390.3 417.3,390.4C418.1,390.4 417.7,391.0 419.1,390.1C420.5,388.2 422.3,384.4 423.4,382.1C424.5,379.8 423.6,379.6 423.9,380.3C424.1,381.0 424.2,383.0 424.5,385.1C424.7,387.2 424.6,388.2 425.1,389.3C425.5,390.4 425.6,389.7 426.3,389.9C426.9,390.1 427.3,390.4 427.8,390.1C428.4,389.9 428.3,389.7 428.7,388.7C429.1,387.7 429.1,386.6 429.4,385.7C429.7,384.8 429.6,384.6 429.9,384.8C430.1,385.1 430.2,385.9 430.5,386.9C430.8,387.9 430.7,388.5 431.1,389.3C431.5,390.1 431.4,390.0 432.1,390.1C432.7,390.3 433.2,390.1 433.9,389.9C434.6,389.7 434.5,389.4 435.1,389.3C435.6,389.2 435.7,389.8 436.3,389.7C436.8,389.5 437.0,389.3 437.5,388.7C438.0,388.1 438.0,387.9 438.3,386.9C438.7,385.9 438.8,385.3 439.1,384.5C439.3,383.6 439.3,383.0 439.5,383.3C439.8,383.6 439.8,384.6 440.1,385.7C440.5,386.8 440.5,387.4 440.9,388.1C441.2,388.8 441.3,388.6 441.7,388.7C442.1,388.8 442.3,388.2 442.7,388.5C443.1,388.7 442.9,389.3 443.5,389.7C444.1,390.1 444.3,390.0 445.3,390.1C446.3,390.3 446.6,390.3 447.7,390.4C448.9,390.5 449.0,390.5 450.2,390.5C451.3,390.5 451.7,390.6 452.6,390.4C453.5,390.2 453.5,390.2 454.0,389.7C454.6,389.1 454.6,389.4 455.0,388.1C455.4,386.7 455.5,385.8 455.8,383.9C456.2,381.9 456.3,380.9 456.6,379.7C456.8,378.4 456.8,378.0 457.0,378.4C457.3,378.9 457.3,379.5 457.6,381.5C457.9,383.4 458.0,385.1 458.4,386.9C458.7,388.7 458.7,388.6 459.2,389.3C459.7,390.0 459.8,389.8 460.4,389.9C461.0,390.0 461.1,390.1 461.6,389.7C462.1,389.2 462.1,389.0 462.5,388.1C462.8,387.2 462.8,386.5 463.2,385.7C463.5,384.8 463.6,384.2 463.9,384.5C464.2,384.8 464.3,385.8 464.6,386.9C465.0,388.0 464.9,388.7 465.4,389.3C465.8,390.0 465.9,389.8 466.4,389.7C467.0,389.5 467.1,389.1 467.6,388.7C468.2,388.3 468.4,388.7 468.9,388.1C469.3,387.5 469.3,387.3 469.7,386.3C470.1,385.3 470.1,384.7 470.4,383.9C470.7,383.0 470.7,382.4 471.0,382.7C471.3,383.0 471.3,384.1 471.6,385.1C472.0,386.1 472.1,386.6 472.5,386.9C472.8,387.2 472.8,386.0 473.1,386.3C473.4,386.6 473.5,387.4 473.8,388.1C474.1,388.8 474.1,389.4 474.5,389.3C474.9,389.2 475.0,388.6 475.5,387.5C475.9,386.4 476.1,385.4 476.5,384.5C476.8,383.6 476.8,383.5 477.2,383.6C477.5,383.8 477.5,384.0 477.9,385.1C478.3,386.1 478.3,387.1 478.7,388.1C479.2,389.1 479.0,388.9 479.7,389.3C480.4,389.7 481.1,390.2 481.8,389.9C482.5,389.6 482.3,388.8 482.7,388.1C483.0,387.4 483.0,386.8 483.4,386.9C483.7,387.0 483.7,387.9 484.1,388.7C484.5,389.5 484.3,389.8 485.1,390.1C485.8,390.5 485.9,390.3 487.2,390.4C488.6,390.4 489.4,390.4 490.9,390.4C492.3,390.4 492.7,390.8 493.5,390.4C494.4,390.0 494.1,389.9 494.5,388.7C494.8,387.5 494.9,386.1 495.1,385.1C495.3,384.1 495.2,383.6 495.4,384.5C495.6,385.3 495.7,387.4 495.9,388.7C496.1,390.0 496.2,391.0 496.4,389.9C496.6,388.5 496.6,387.2 496.9,382.7C497.1,378.2 497.2,375.7 497.5,370.6C497.8,365.5 497.8,363.9 498.1,361.0C498.4,358.0 498.5,357.9 498.8,357.9C499.2,357.9 499.2,357.7 499.5,361.0C499.9,364.2 499.9,366.2 500.3,371.8C500.6,377.4 500.7,380.9 501.1,385.1C501.5,389.3 501.6,388.7 502.0,389.9C502.3,391.0 502.3,390.7 502.7,390.1C503.0,389.6 503.1,390.1 503.5,387.5C503.9,384.9 503.9,384.4 504.4,379.1C504.8,373.7 504.9,370.8 505.3,364.6C505.8,358.4 505.9,357.0 506.3,352.5C506.7,348.0 506.9,347.2 507.1,345.3C507.4,343.3 507.3,343.5 507.5,344.1C507.7,344.6 507.8,344.0 508.1,347.7C508.4,351.3 508.6,353.6 509.0,359.8C509.3,365.9 509.5,368.0 509.8,374.2C510.1,380.4 510.1,382.8 510.4,386.3C510.7,389.8 510.7,389.6 510.9,389.3C511.1,389.0 511.1,386.5 511.4,385.1C511.6,383.7 511.6,383.1 511.8,383.3C512.1,383.4 512.1,384.4 512.3,385.7C512.6,387.0 512.6,387.7 512.9,388.7C513.3,389.7 513.2,389.6 513.8,389.9C514.3,390.2 514.7,390.2 515.2,389.9C515.8,389.6 515.7,389.4 516.2,388.7C516.6,388.0 516.6,388.0 517.2,386.9C517.7,385.8 517.8,385.1 518.4,383.9C518.9,382.6 519.0,382.4 519.6,381.5C520.1,380.5 520.2,380.2 520.8,379.7C521.3,379.1 521.6,379.2 522.0,379.1C522.4,378.9 522.2,378.2 522.6,378.8C522.9,379.4 523.0,380.1 523.4,381.5C523.8,382.8 523.9,383.2 524.4,384.5C524.9,385.7 525.0,386.0 525.6,386.9C526.2,387.7 526.3,387.4 526.8,388.1C527.3,388.8 527.3,390.0 527.6,389.9C528.0,389.8 528.1,388.3 528.5,387.5C528.9,386.7 529.0,386.6 529.5,386.3C530.0,386.0 530.2,386.5 530.7,386.0C531.2,385.6 531.2,385.3 531.6,384.5C532.1,383.7 532.2,383.1 532.6,382.7C533.0,382.2 533.0,382.0 533.3,382.4C533.7,382.9 533.7,383.4 534.0,384.5C534.4,385.5 534.5,385.9 534.9,386.9C535.3,387.9 535.3,388.1 535.7,388.7C536.2,389.3 536.2,389.3 536.7,389.7C537.2,390.0 537.3,390.0 537.9,390.1C538.5,390.3 538.4,390.3 539.1,390.4C539.8,390.4 540.6,390.4 541.0,390.4" fill="none" stroke="#000" stroke-width="1.0" stroke-linejoin="round"/>
<g fill="#0072bd"><path d="M61.2,334.6h8.0l-4.0,7.0z"/><path d="M75.1,369.7h8.0l-4.0,7.0z"/><path d="M97.7,307.2h8.0l-4.0,7.0z"/><path d="M114.5,364.8h8.0l-4.0,7.0z"/><path d="M129.7,331.6h8.0l-4.0,7.0z"/><path d="M141.6,373.3h8.0l-4.0,7.0z"/><path d="M154.8,366.7h8.0l-4.0,7.0z"/><path d="M177.5,373.9h8.0l-4.0,7.0z"/><path d="M198.6,380.5h8.0l-4.0,7.0z"/><path d="M213.8,364.2h8.0l-4.0,7.0z"/><path d="M236.0,366.1h8.0l-4.0,7.0z"/><path d="M251.2,332.7h8.0l-4.0,7.0z"/><path d="M271.0,331.8h8.0l-4.0,7.0z"/><path d="M283.1,365.6h8.0l-4.0,7.0z"/><path d="M295.6,377.6h8.0l-4.0,7.0z"/><path d="M314.2,285.2h8.0l-4.0,7.0z"/><path d="M336.6,334.7h8.0l-4.0,7.0z"/><path d="M360.7,264.8h8.0l-4.0,7.0z"/><path d="M383.7,326.0h8.0l-4.0,7.0z"/><path d="M399.7,331.1h8.0l-4.0,7.0z"/><path d="M419.7,372.2h8.0l-4.0,7.0z"/><path d="M435.5,376.3h8.0l-4.0,7.0z"/><path d="M453.0,371.2h8.0l-4.0,7.0z"/><path d="M467.0,375.7h8.0l-4.0,7.0z"/><path d="M491.4,377.5h8.0l-4.0,7.0z"/><path d="M503.5,337.7h8.0l-4.0,7.0z"/><path d="M518.8,371.2h8.0l-4.0,7.0z"/><path d="M536.0,382.7h8.0l-4.0,7.0z"/></g>
<path d="M63.05,25.2H541.2V205.1H63.05ZM182.59,205.1v-4.6M182.59,25.2v4.6M302.12,205.1v-4.6M302.12,25.2v4.6M421.66,205.1v-4.6M421.66,25.2v4.6M63.05,248.2H541.2V414.4H63.05ZM182.59,414.4v-4.6M182.59,248.2v4.6M302.12,414.4v-4.6M302.12,248.2v4.6M421.66,414.4v-4.6M421.66,248.2v4.6M63.05,169.12h4.6M541.2,169.12h-4.6M63.05,133.14h4.6M541.2,133.14h-4.6M63.05,97.16h4.6M541.2,97.16h-4.6M63.05,61.18h4.6M541.2,61.18h-4.6M63.05,390.60h4.6M541.2,390.60h-4.6M63.05,331.10h4.6M541.2,331.10h-4.6M63.05,271.60h4.6M541.2,271.60h-4.6" stroke="#4a4a4a" stroke-width="1.2" fill="none"/>
<g font-family="'Liberation Sans', Arial, sans-serif" fill="#3a3a3a" font-size="14.4">
<text x="61.8" y="226.2" text-anchor="middle">0</text>
<text x="61.8" y="434.8" text-anchor="middle">0</text>
<text x="181.4" y="226.2" text-anchor="middle">0.5</text>
<text x="181.4" y="434.8" text-anchor="middle">0.5</text>
<text x="300.9" y="226.2" text-anchor="middle">1</text>
<text x="300.9" y="434.8" text-anchor="middle">1</text>
<text x="420.5" y="226.2" text-anchor="middle">1.5</text>
<text x="420.5" y="434.8" text-anchor="middle">1.5</text>
<text x="540.0" y="226.2" text-anchor="middle">2</text>
<text x="540.0" y="434.8" text-anchor="middle">2</text>
<text x="56" y="210.7" text-anchor="end">5.05</text>
<text x="56" y="174.7" text-anchor="end">5.1</text>
<text x="56" y="138.7" text-anchor="end">5.15</text>
<text x="56" y="102.8" text-anchor="end">5.2</text>
<text x="56" y="66.8" text-anchor="end">5.25</text>
<text x="56.5" y="396.0" text-anchor="end">0</text>
<text x="56.5" y="336.5" text-anchor="end">0.5</text>
<text x="56.5" y="277.0" text-anchor="end">1</text>
</g>
<g font-family="'Liberation Sans', Arial, sans-serif" fill="#262626" font-size="16.8">
<text x="300.9" y="18.2" text-anchor="middle" font-weight="bold" fill="#111" stroke="#111" stroke-width="0.25" font-size="16.5">blink</text>
<text x="301.5" y="457.6" text-anchor="middle">sec</text>
<text transform="translate(20.9,115.9) rotate(-90)" text-anchor="middle" textLength="71.5" lengthAdjust="spacing">mV(EOG)</text>
<text transform="translate(28.8,330.0) rotate(-90)" text-anchor="middle">Peaks of abs(EOG)</text>
</g>
</svg>
</body></html>
